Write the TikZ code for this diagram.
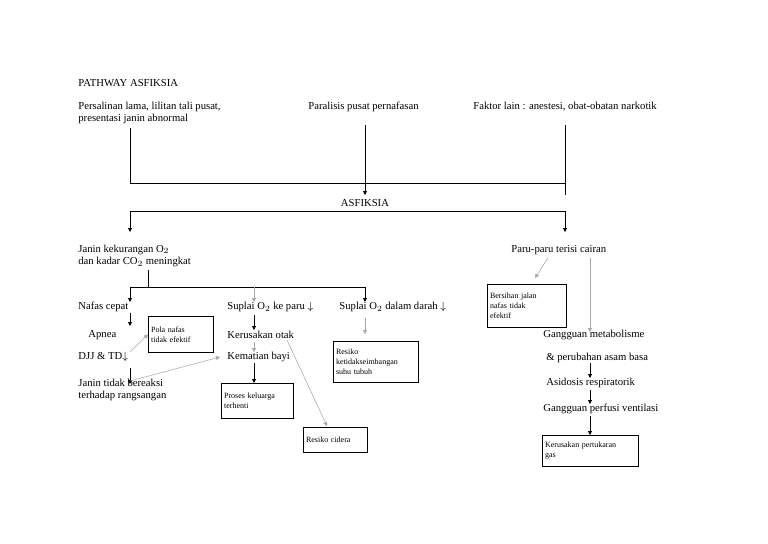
\documentclass[tikz,border=0pt]{standalone}
\usepackage{fontspec}
\setmainfont{Liberation Serif}
\usetikzlibrary{arrows.meta}
\tikzset{every picture/.style={line width=0.6pt},
  txt/.style={anchor=west,inner sep=0.75pt,font=\fontsize{8}{9.5}\selectfont,align=left},
  box/.style 2 args={draw,anchor=north west,inner sep=2pt,font=\fontsize{6}{7.5}\selectfont,align=left,text width=#1,minimum height=#2},
  arr/.style={-{Triangle[length=3pt,width=3pt]}},
  gry/.style={arr,draw=gray!70,line width=0.4pt}}
\begin{document}
\begin{tikzpicture}[x=0.75pt,y=0.75pt,yscale=-1,xscale=1]
\useasboundingbox (0,0) rectangle (768,543);
% Top causes
\node[txt] (title) at (77,83) {PATHWAY ASFIKSIA};
\node[txt] (cause1) at (77,113) {Persalinan lama, lilitan tali pusat,\\presentasi janin abnormal};
\node[txt] (cause2) at (307,107) {Paralisis pusat pernafasan};
\node[txt] (cause3) at (472,107) {Faktor lain : anestesi, obat-obatan narkotik};
\coordinate (c1) at (130,128); \coordinate (c1b) at (130,183);
\coordinate (c2) at (365,125); \coordinate (c2c) at (365,195);
\coordinate (c3) at (565,125); \coordinate (c3b) at (565,195);
\draw (c1) -- (c1b) -- (565,183);
\draw (c3) -- (c3b);
\draw[arr] (c2) -- (c2c);
% Asfiksia
\node[txt,anchor=center] (asf) at (365,203) {ASFIKSIA};
\coordinate (sl) at (130,211); \coordinate (sr) at (565,211);
\draw (sl) -- (sr);
\draw[arr] (sl) -- (130,232);
\draw[arr] (sr) -- (565,232);
% Left branch
\node[txt] (janin) at (77,256) {Janin kekurangan O$_2$\\dan kadar CO$_2$ meningkat};
\draw (148,270) -- (148,287);
\draw (130,287) -- (365,287);
\draw[arr] (130,287) -- (130,302);
\draw[gry] (254,287) -- (254,302);
\draw[arr] (365,287) -- (365,302);
\node[txt] (nafas) at (77,307) {Nafas cepat};
\node[txt] (suparu) at (226,307) {Suplai O$_2$ ke paru $\downarrow$};
\node[txt] (sudarah) at (338,307) {Suplai O$_2$ dalam darah $\downarrow$};
\node[txt] (apnea) at (87,335) {Apnea};
\node[txt] (djj) at (77,357) {DJJ \& TD$\downarrow$};
\node[txt] (tdk) at (77,390) {Janin tidak bereaksi\\terhadap rangsangan};
\node[box={45pt}{27pt}] (pola) at (148,316) {Pola nafas\\tidak efektif\\[6pt]};
\draw[arr] (130,313) -- (130,326);
\draw[arr] (130,368) -- (130,384);
\draw[gry] (130,352) -- (pola.west);
\draw[gry] (130,381) -- (220,357);
% Middle
\node[txt] (otak) at (226,335) {Kerusakan otak};
\node[txt] (mati) at (226,357) {Kematian bayi};
\node[box={50pt}{26pt}] (proses) at (221,383) {Proses keluarga\\terhenti\\[6pt]};
\node[box={44pt}{19pt}] (cidera) at (303,427) {Resiko cidera\\[4pt]};
\draw[arr] (254,315) -- (254,330);
\draw[gry] (254,342) -- (254,352);
\draw[arr] (254,363) -- (proses.north -| 254,0);
\draw[gry] (287,340) -- (327,426);
% Right of middle
\node[box={60pt}{31pt}] (suhu) at (333,341) {Resiko\\ketidakseimbangan\\suhu tubuh};
\draw[gry] (365,318) -- (365,334);
% Right branch
\node[txt] (paru) at (510,250) {Paru-paru terisi cairan};
\node[box={55pt}{32pt}] (bersih) at (487,284) {Bersihan jalan\\nafas tidak\\efektif};
\draw[gry] (548,258) -- (535,278);
\node[txt] (meta) at (542,335) {Gangguan metabolisme};
\node[txt] (asam) at (545,358) {\& perubahan asam basa};
\node[txt] (asid) at (545,383) {Asidosis respiratorik};
\node[txt] (perf) at (542,409) {Gangguan perfusi ventilasi};
\node[box={68pt}{23pt}] (tukar) at (542,435) {Kerusakan pertukaran\\gas\\[2pt]};
\draw[gry] (590,258) -- (590,332);
\draw[arr] (590,363) -- (590,378);
\draw[arr] (590,390) -- (590,404);
\draw[arr] (590,416) -- (590,435);
\end{tikzpicture}
\end{document}
